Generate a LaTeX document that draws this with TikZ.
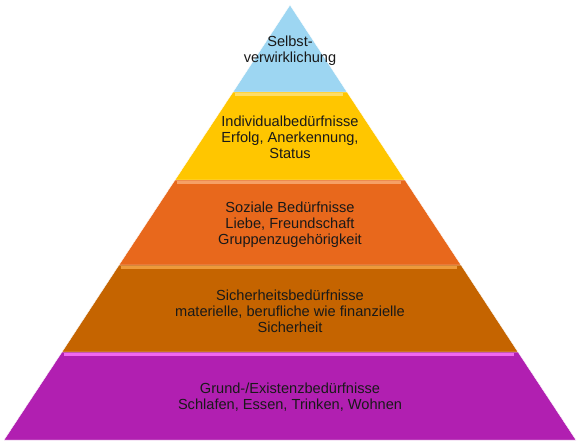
\documentclass[tikz,border=0pt]{standalone}
\usepackage{fontspec}
\setmainfont{Liberation Sans}
\usepackage{xcolor}

\definecolor{topblue}{HTML}{9DD6F2}
\definecolor{indyellow}{HTML}{FFC600}
\definecolor{socorange}{HTML}{E8681C}
\definecolor{safebrown}{HTML}{C56400}
\definecolor{basepurple}{HTML}{B11FB1}
\definecolor{yellowlight}{HTML}{FFDD66}
\definecolor{orangelight}{HTML}{F6A066}
\definecolor{brownlight}{HTML}{EE9A3A}
\definecolor{purplelight}{HTML}{F068F0}

\begin{document}
\begin{tikzpicture}[x=1pt, y=-1pt,
	level/.style={draw=white, line width=0.4pt},
	bevel/.style={line width=3pt},
	label/.style={align=center, font=\fontsize{14.6}{16.2}\selectfont, text=black!90}]
			\useasboundingbox (0,0) rectangle (583,446);

			% layers, bottom to top
			\fill[level, fill=basepurple] (4,440) -- (576,440) -- (518,352) -- (62,352) -- cycle;
			\fill[level, fill=safebrown] (62,352) -- (518,352) -- (461,265) -- (119,265) -- cycle;
			\fill[level, fill=socorange] (119,265) -- (461,265) -- (405,180) -- (175,180) -- cycle;
			\fill[level, fill=indyellow] (175,180) -- (405,180) -- (347,92) -- (233,92) -- cycle;
			\fill[level, fill=topblue] (233,92) -- (347,92) -- (290,5) -- cycle;

			% bevel on top of each layer
			\draw[bevel, purplelight] (64,354.5) -- (514,354.5);
			\draw[bevel, brownlight] (121,267.5) -- (457,267.5);
			\draw[bevel, orangelight] (177,182.5) -- (401,182.5);
			\draw[bevel, yellowlight] (235,94.5) -- (343,94.5);

			\node[label] (self) at (290,51) {Selbst-\\verwirklichung};
			\node[label] (indiv) at (290,137) {Individualbedürfnisse\\Erfolg, Anerkennung,\\Status};
			\node[label] (social) at (290,225) {Soziale Bedürfnisse\\Liebe, Freundschaft\\Gruppenzugehörigkeit};
			\node[label] (safety) at (290,311) {Sicherheitsbedürfnisse\\materielle, berufliche wie finanzielle\\Sicherheit};
			\node[label] (basic) at (290,397) {Grund-/Existenzbedürfnisse\\Schlafen, Essen, Trinken, Wohnen};
		\end{tikzpicture}
\end{document}
